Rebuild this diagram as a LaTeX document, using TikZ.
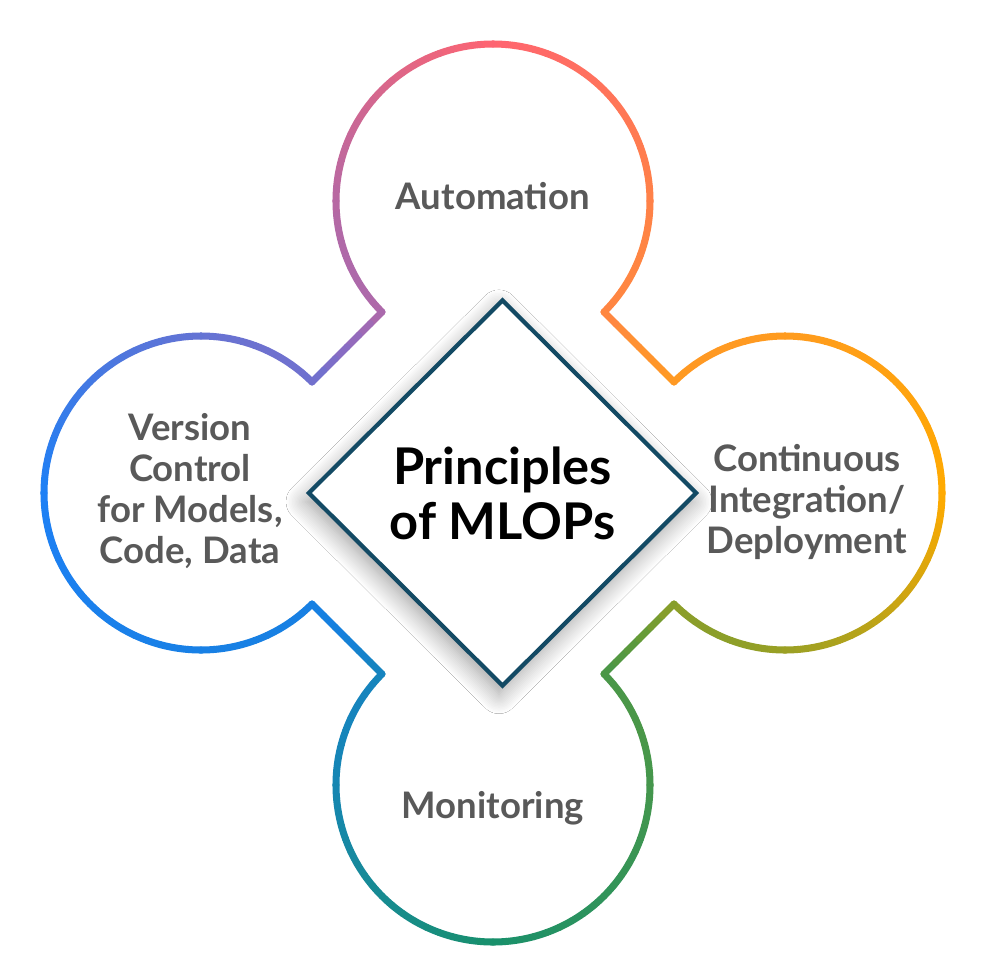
\documentclass[tikz,border=0pt]{standalone}
\usepackage{fontspec}
\setmainfont{Lato}
\usetikzlibrary{shapes.geometric,shadows.blur}

\definecolor{c0}{HTML}{FFAA00}
\definecolor{c1}{HTML}{FF9330}
\definecolor{c2}{HTML}{FF6470}
\definecolor{c3}{HTML}{8E6BC0}
\definecolor{c4}{HTML}{1E80F5}
\definecolor{c5}{HTML}{1580DC}
\definecolor{c6}{HTML}{18906C}
\definecolor{c7}{HTML}{5E9A3A}
\colorlet{c8}{c0}
\colorlet{c9}{c1}
\definecolor{corerim}{HTML}{134A64}
\definecolor{petalgray}{HTML}{595959}

\tikzset{
  petal/.style={font=\bfseries\fontsize{20.8}{23.2}\selectfont, text=petalgray, align=center},
  rim/.style={line width=4pt, line cap=round}
}

\begin{document}
\begin{tikzpicture}[x=0.02cm, y=0.02cm]
	\fill[white] (-493,-485) rectangle (507,493);
	\useasboundingbox (-493,-485) rectangle (507,493);
	\foreach \cx/\cy/\s in {0/292/-45, -292/0/45, 0/-292/135, 292/0/225}{
		\foreach \k in {0,...,53}{
			\pgfmathsetmacro\a{\s+5*\k}
			\pgfmathsetmacro\g{mod(atan2(\cy+157*sin(\a+2.5),\cx+157*cos(\a+2.5))+360,360)}
			\pgfmathtruncatemacro\ci{\g/45}
			\pgfmathtruncatemacro\cj{\ci+1}
			\pgfmathsetmacro\f{100*(\g-45*\ci)/45}
			\draw[rim, color=c\cj!\f!c\ci] (\cx,\cy) ++(\a:157) arc[start angle=\a, delta angle=5, radius=157];
		}
	}
	\foreach \px/\py/\qx/\qy in {-111/181/-181/111, -181/-111/-111/-181, 111/-181/181/-111, 181/111/111/181}{
		\foreach \k in {0,...,5}{
			\pgfmathsetmacro\g{mod(atan2(\py+(\qy-\py)*(\k+0.5)/6,\px+(\qx-\px)*(\k+0.5)/6)+360,360)}
			\pgfmathtruncatemacro\ci{\g/45}
			\pgfmathtruncatemacro\cj{\ci+1}
			\pgfmathsetmacro\f{100*(\g-45*\ci)/45}
			\draw[rim, color=c\cj!\f!c\ci] ({\px+(\qx-\px)*\k/6},{\py+(\qy-\py)*\k/6}) -- ({\px+(\qx-\px)*(\k+1)/6},{\py+(\qy-\py)*(\k+1)/6});
		}
	}
	\node (core) at (9.5,0) [diamond, draw=corerim, fill=white, line width=2.4pt, minimum width=7.78cm, minimum height=7.74cm, inner sep=0pt, blur shadow={shadow xshift=-2pt, shadow yshift=-5pt, shadow blur radius=11pt, shadow blur steps=14, shadow opacity=38}, font=\bfseries\fontsize{28.8}{31.3}\selectfont, align=center] {Principles\\of MLOPs};
	\node (auto) at (0,297) [petal] {Automation};
	\node (vers) at (-303,2) [petal] {Version\\Control\\for Models,\\Code, Data};
	\node (cicd) at (314,-9) [petal] {Continuous\\Integration/\\Deployment};
	\node (moni) at (0,-315) [petal] {Monitoring};
\end{tikzpicture}
\end{document}
